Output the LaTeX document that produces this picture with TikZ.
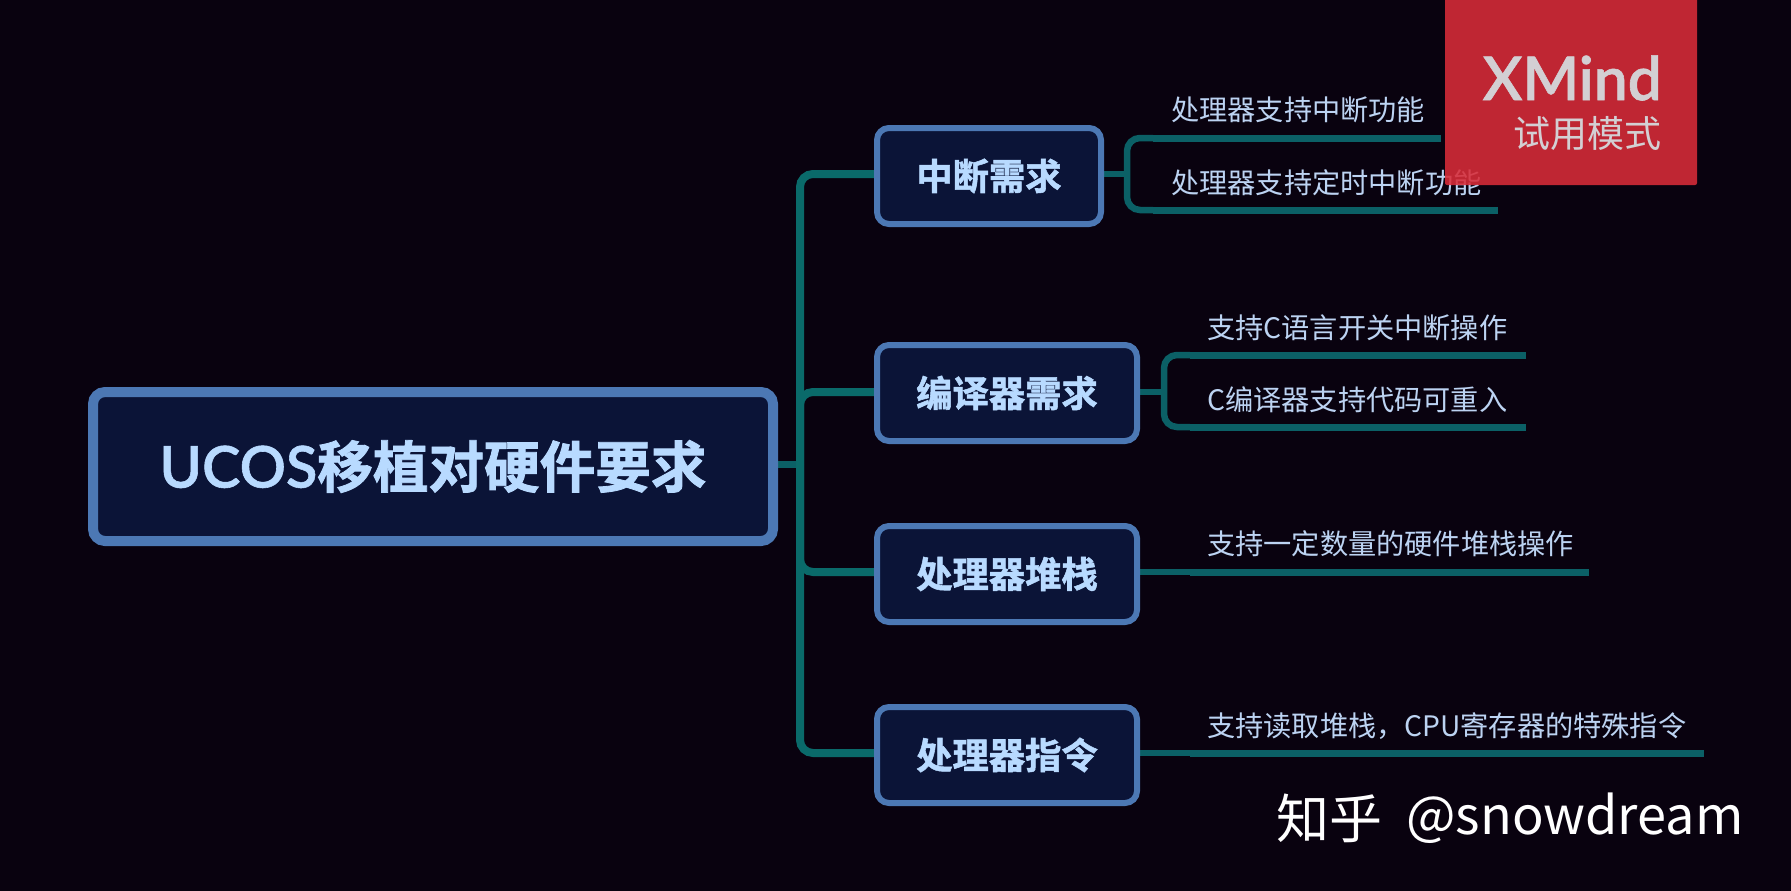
\documentclass[tikz,border=0pt]{standalone}
\usepackage{fontspec}
\setmainfont{Noto Sans CJK SC}
\newfontfamily\cjkreg{Noto Sans CJK SC}
\newfontfamily\cjkbold[FakeBold=1.5]{Noto Sans CJK SC Bold}
\newfontfamily\latinf{Lato Semibold}
\newfontfamily\latinx[FakeBold=1]{Lato Semibold}
\usetikzlibrary{backgrounds}
\definecolor{bgc}{HTML}{09020F}
\definecolor{boxfill}{HTML}{0B1437}
\definecolor{boxline}{HTML}{4C78B4}
\definecolor{teal}{HTML}{0A6A6A}
\definecolor{tealb}{HTML}{0B6066}
\definecolor{titlec}{HTML}{B8DAFF}
\definecolor{leafc}{HTML}{BCD3F2}
\definecolor{xred}{HTML}{D92C38}
\definecolor{xtext}{HTML}{D3CFD3}
\newcommand{\fsz}[1]{\fontsize{#1}{#1}\selectfont}
\tikzset{
  rootbox/.style={draw=boxline,fill=boxfill,line width=10pt,rounded corners=12pt,minimum width=680pt,minimum height=149pt,inner sep=0pt,text=titlec},
  topicbox/.style={draw=boxline,fill=boxfill,line width=6pt,rounded corners=12pt,minimum height=96pt,inner sep=0pt,text=titlec,font=\cjkbold\fsz{36.3}},
  leaf/.style={anchor=west,inner sep=0pt,text=leafc,font=\cjkreg\fsz{28.2},text height=24pt,text depth=4pt},
  stem/.style={draw=teal,line width=8pt,rounded corners=13pt},
  sub/.style={draw=tealb,line width=6.5pt,rounded corners=13pt},
  thin/.style={draw=tealb,line width=5.5pt},
  under/.style={draw=tealb,line width=7pt},
}
\begin{document}
\begin{tikzpicture}[x=1pt,y=-1pt]
\useasboundingbox (0,0) rectangle (1791,891);
\node[rootbox] (root) at (433,466.5) {\raisebox{3pt}{{\latinx\fsz{57.6}UCOS}{\cjkbold\fsz{55.6}移植对硬件要求}}\hspace{4pt}};
\node[topicbox,minimum width=224pt] (t1) at (989,176) {\raisebox{2pt}{中断需求}\hspace{6pt}};
\node[topicbox,minimum width=260pt] (t2) at (1007,393) {\raisebox{2pt}{编译器需求}\hspace{6pt}};
\node[topicbox,minimum width=260pt] (t3) at (1007,574) {\raisebox{2pt}{处理器堆栈}\hspace{6pt}};
\node[topicbox,minimum width=260pt] (t4) at (1007,755) {\raisebox{2pt}{处理器指令}\hspace{6pt}};
\node[leaf] (l1) at (1171,111) {处理器支持中断功能};
\node[leaf] (l2) at (1171,183) {处理器支持定时中断功能};
\node[leaf] (l3) at (1207,328) {支持C语言开关中断操作};
\node[leaf] (l4) at (1207,400) {C编译器支持代码可重入};
\node[leaf] (l5) at (1207,544) {支持一定数量的硬件堆栈操作};
\node[leaf] (l6) at (1207,726) {支持读取堆栈，CPU寄存器的特殊指令};
\coordinate (j) at (800,464);
\coordinate (b1) at (800,174); \coordinate (b2) at (800,392);
\coordinate (b3) at (800,572); \coordinate (b4) at (800,753);
\coordinate (s1) at (1153,138); \coordinate (e1) at (1441,138);
\coordinate (s2) at (1153,210); \coordinate (e2) at (1498,210);
\coordinate (s3) at (1190,355); \coordinate (e3) at (1526,355);
\coordinate (s4) at (1190,427); \coordinate (e4) at (1526,427);
\coordinate (s5) at (1190,572); \coordinate (e5) at (1589,572);
\coordinate (s6) at (1190,753); \coordinate (e6) at (1704,753);
\begin{scope}[on background layer]
\fill[bgc] (0,0) rectangle (1791,891);
\draw[thin,line width=7pt] (root.east |- j) -- (j);
\draw[stem] (j) -- (b1) -- (t1.west |- b1);
\draw[stem] (j) -- (b2) -- (t2.west |- b2);
\draw[stem] (j) -- (b3) -- (t3.west |- b3);
\draw[stem] (j) -- (b4) -- (t4.west |- b4);
\draw[thin,line width=6.5pt] (t1.east |- b1) -- (1127,174);
\draw[sub] (s1) -- (1127,138) -- (1127,210) -- (s2);
\draw[thin,line width=6.5pt] (t2.east |- b2) -- (1164,392);
\draw[sub] (s3) -- (1164,355) -- (1164,427) -- (s4);
\draw[thin] (t3.east |- b3) -- (s5);
\draw[thin] (t4.east |- b4) -- (s6);
\draw[under] (s1) -- (e1);
\draw[under] (s2) -- (e2);
\draw[under] (s3) -- (e3);
\draw[under] (s4) -- (e4);
\draw[under] (s5) -- (e5);
\draw[under] (s6) -- (e6);
\end{scope}
\fill[xred,opacity=.88,rounded corners=2pt] (1445,-5) rectangle (1697,185);
\node[anchor=east,inner sep=0pt,text=xtext,font=\latinx\fsz{60.5}] (xm) at (1662,78) {XMind};
\node[anchor=east,inner sep=0pt,text=xtext,font=\cjkreg\fsz{37}] (xs) at (1662,134) {试用模式};
\node[anchor=west,inner sep=0pt,text=white,font=\cjkreg\fsz{53}] (zh) at (1276,818) {知乎};
\node[anchor=west,inner sep=0pt,text=white,font=\cjkreg\fsz{52.3}] (sn) at (1406,818) {@snowdream};
\end{tikzpicture}
\end{document}
